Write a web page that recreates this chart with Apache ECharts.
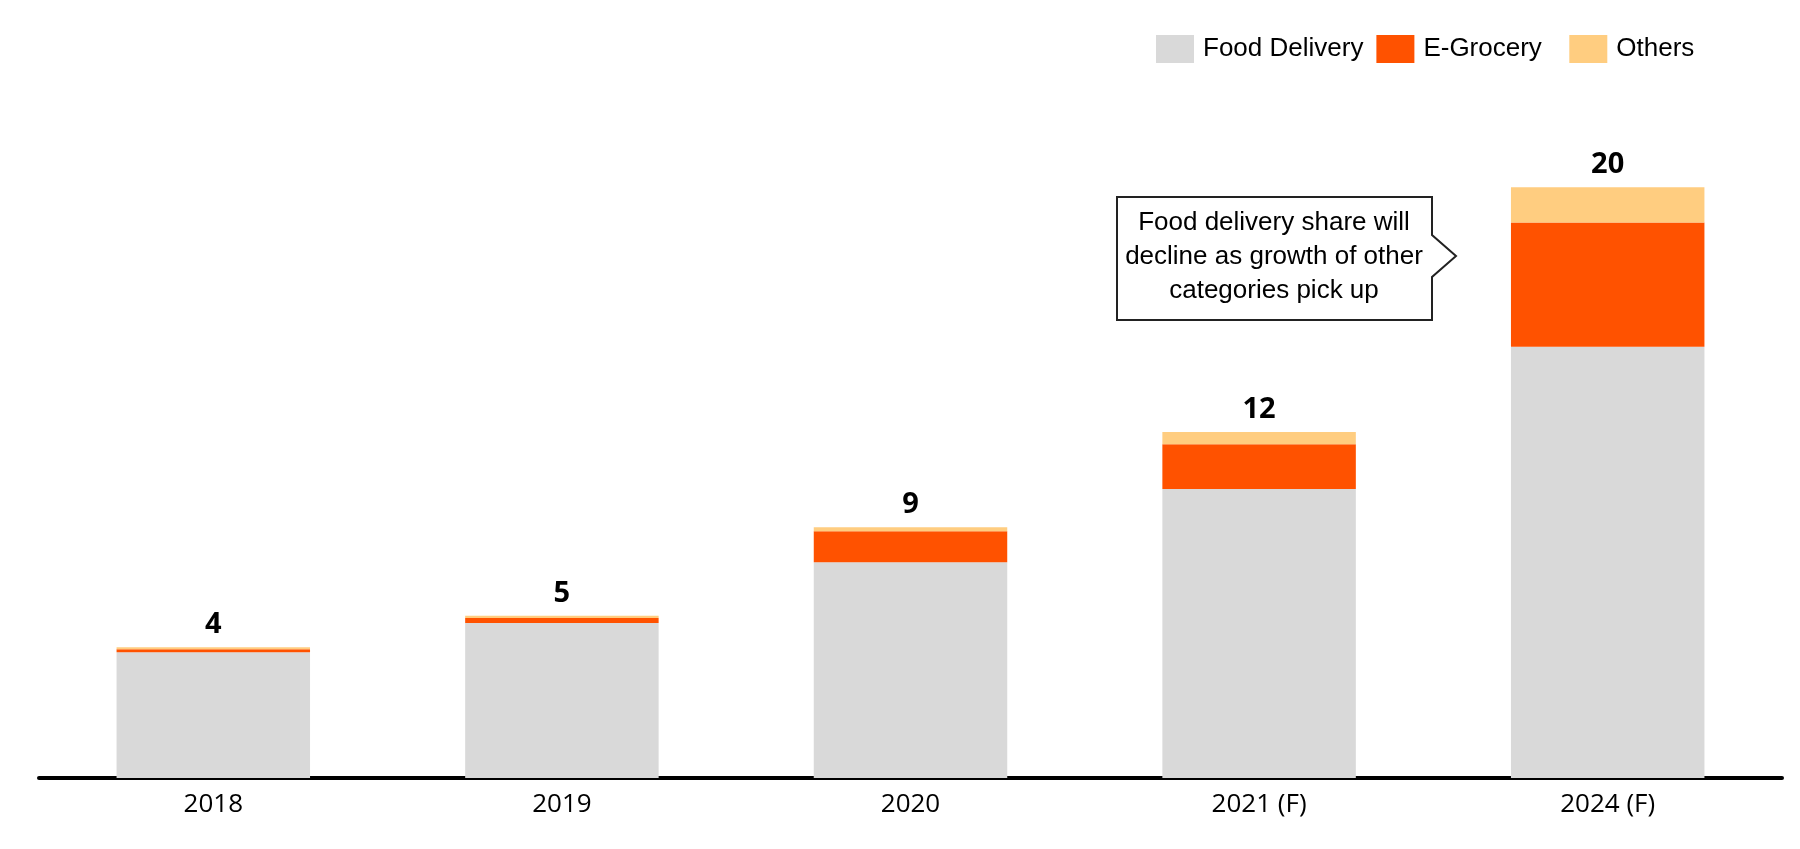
<!DOCTYPE html>
<html>
<head>
<meta charset="utf-8">
<script src="https://cdn.jsdelivr.net/npm/echarts@6/dist/echarts.min.js"></script>
<style>
    html, body { margin: 0; padding: 0; background: #fff; }
    #chart { width: 1800px; height: 849px; }
</style>
</head>
<body>
<div id="chart"></div>
<script>
// categories and values
var years = ['2018', '2019', '2020', '2021 (F)', '2024 (F)']
var foodDelivery = [4.26, 5.25, 7.3, 9.78, 14.6]
var eGrocery = [0.1, 0.17, 1.05, 1.52, 4.2]
var others = [0.07, 0.07, 0.14, 0.41, 1.2]
var totalLabels = ['4', '5', '9', '12', '20']
var noteLines = ['Food delivery share will', 'decline as growth of other', 'categories pick up']

var chart = echarts.init(document.getElementById('chart'))

chart.setOption({
    backgroundColor: '#fff',
    animation: false,
    legend: {
        data: ['Food Delivery', 'E-Grocery', 'Others'],
        left: 1151,
        top: 30,
        itemWidth: 38,
        itemHeight: 28,
        itemGap: 13,
        icon: 'rect',
        // a bit more room before "Others", like the original
        formatter: function (name) {
            return name === 'E-Grocery' ? name + '  ' : name
        },
        textStyle: {
            fontFamily: 'Liberation Sans, Arial, sans-serif',
            fontSize: 26,
            color: '#000',
            padding: [0, 0, 0, 4]
        }
    },
    grid: {
        left: 39,
        right: 18,
        top: 69,
        bottom: 71
    },
    xAxis: {
        type: 'category',
        data: years,
        axisLine: {
            lineStyle: { color: '#000', width: 4 }
        },
        axisTick: { show: false },
        axisLabel: {
            fontFamily: 'Open Sans, sans-serif',
            fontSize: 26,
            color: '#000',
            margin: 14
        }
    },
    yAxis: {
        type: 'value',
        min: 0,
        max: 24,
        show: false,
        splitLine: { show: false }
    },
    series: [
        {
            name: 'Food Delivery',
            type: 'bar',
            stack: 'total',
            barWidth: '55.5%',
            itemStyle: { color: '#D9D9D9' },
            data: foodDelivery
        },
        {
            name: 'E-Grocery',
            type: 'bar',
            stack: 'total',
            itemStyle: { color: '#FF5200' },
            data: eGrocery
        },
        {
            name: 'Others',
            type: 'bar',
            stack: 'total',
            itemStyle: { color: '#FFCD80' },
            label: {
                show: true,
                position: 'top',
                distance: 8,
                fontFamily: 'Open Sans, sans-serif',
                fontWeight: 'bold',
                fontSize: 29,
                color: '#000',
                formatter: function (p) {
                    return totalLabels[p.dataIndex]
                }
            },
            data: others
        }
    ],
    // callout box
    graphic: [
        {
            type: 'polygon',
            shape: {
                points: [
                    [1117, 197], [1432, 197], [1432, 235], [1456, 256],
                    [1432, 277], [1432, 320], [1117, 320]
                ]
            },
            style: { fill: '#fff', stroke: '#222', lineWidth: 2 }
        },
        {
            type: 'text',
            x: 1274,
            y: 257,
            style: {
                text: noteLines.join('\n'),
                fontFamily: 'Liberation Sans, Arial, sans-serif',
                fontSize: 26,
                lineHeight: 34,
                fill: '#000',
                align: 'center',
                verticalAlign: 'middle'
            }
        }
    ]
})
</script>
</body>
</html>
